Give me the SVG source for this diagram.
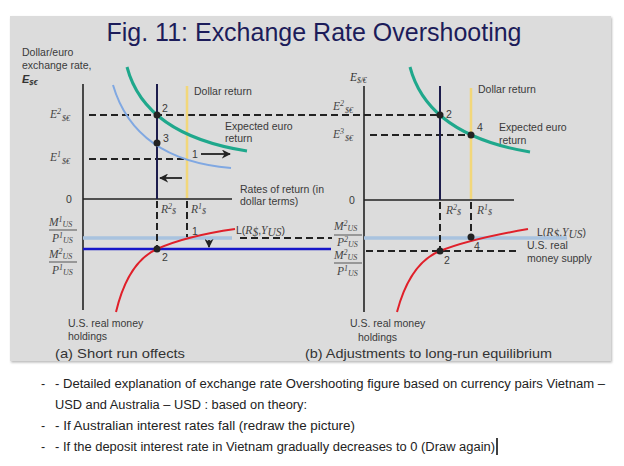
<svg xmlns="http://www.w3.org/2000/svg" width="624" height="466" viewBox="0 0 624 466">
<defs>
<style>
.lbl{font-family:"Liberation Sans",Arial,sans-serif;font-size:10.5px;fill:#3a3a3a}
.m{font-family:"Liberation Serif","Times New Roman",serif;font-style:italic;fill:#444;font-size:11.5px}
.ms{font-size:8px}
.dash{stroke:#222;stroke-width:2;stroke-dasharray:7 4;fill:none}
.ax{stroke:#222;stroke-width:1.6;fill:none}
.nv{stroke:#1c1c4c;stroke-width:2;fill:none}
.yl{stroke:#f2d77a;stroke-width:2.5;fill:none}
.dot{fill:#222}
.body{font-family:"Liberation Sans",Arial,sans-serif;font-size:12.5px;fill:#222}
</style>
<marker id="ah" viewBox="0 0 10 10" refX="9" refY="5" markerWidth="5" markerHeight="5" orient="auto"><path d="M0,0 L10,5 L0,10 L3,5 z" fill="#222"/></marker>
<filter id="sh" x="-5%" y="-5%" width="110%" height="110%"><feDropShadow dx="1" dy="1.5" stdDeviation="1" flood-color="#888" flood-opacity="0.6"/></filter>
</defs>
<rect width="624" height="466" fill="#fff"/>
<rect x="10" y="16" width="601" height="345" fill="#dcdcdc" filter="url(#sh)"/>
<text x="314" y="41" text-anchor="middle" font-family="'Liberation Sans',Arial,sans-serif" font-size="26" fill="#1c1c5a" textLength="415" lengthAdjust="spacingAndGlyphs">Fig. 11: Exchange Rate Overshooting</text>

<g id="panel-a">
<text class="lbl" x="22" y="56">Dollar/euro</text>
<text class="lbl" x="22" y="69">exchange rate,</text>
<text x="22" y="83" font-family="'Liberation Sans',Arial,sans-serif" font-weight="bold" font-style="italic" font-size="11" fill="#333">E<tspan font-size="7.5" dy="2">$€</tspan></text>
<text class="m" x="50" y="118">E<tspan class="ms" dy="-4">2</tspan><tspan class="ms" dy="7" dx="1">$€</tspan></text>
<text class="m" x="50" y="161">E<tspan class="ms" dy="-4">1</tspan><tspan class="ms" dy="7" dx="1">$€</tspan></text>
<text class="lbl" x="66" y="203" font-size="11">0</text>
<text class="m" x="49" y="226">M<tspan class="ms" dy="-4">1</tspan><tspan class="ms" dy="5">US</tspan></text>
<line x1="49" y1="230" x2="77" y2="230" stroke="#555" stroke-width="1"/>
<text class="m" x="52" y="242">P<tspan class="ms" dy="-4">1</tspan><tspan class="ms" dy="5">US</tspan></text>
<text class="m" x="49" y="258">M<tspan class="ms" dy="-4">2</tspan><tspan class="ms" dy="5">US</tspan></text>
<line x1="49" y1="262" x2="77" y2="262" stroke="#555" stroke-width="1"/>
<text class="m" x="52" y="274">P<tspan class="ms" dy="-4">1</tspan><tspan class="ms" dy="5">US</tspan></text>
<text class="m" x="161" y="213">R<tspan class="ms" dy="-4">2</tspan><tspan class="ms" dy="5">$</tspan></text>
<text class="m" x="191" y="213">R<tspan class="ms" dy="-4">1</tspan><tspan class="ms" dy="5">$</tspan></text>
<text class="lbl" x="194" y="95">Dollar return</text>
<text class="lbl" x="225" y="130">Expected euro</text>
<text class="lbl" x="225" y="142">return</text>
<text class="lbl" x="240" y="193">Rates of return (in</text>
<text class="lbl" x="240" y="205">dollar terms)</text>
<text class="lbl" x="236" y="234">L(<tspan class="m" font-size="10">R</tspan><tspan class="m" font-size="7" dy="2">$</tspan><tspan dy="-2">,</tspan><tspan class="m" font-size="10">Y</tspan><tspan class="m" font-size="7" dy="2">US</tspan><tspan dy="-2">)</tspan></text>
<text class="lbl" x="68" y="327">U.S. real money</text>
<text class="lbl" x="68" y="340">holdings</text>
<text x="55" y="358" font-family="'Liberation Sans',Arial,sans-serif" font-size="13" fill="#333" textLength="130" lengthAdjust="spacingAndGlyphs">(a) Short run offects</text>
</g>

<g id="panel-b">
<text x="350" y="81" font-family="'Liberation Serif',serif" font-style="italic" font-size="11.5" fill="#333">E<tspan font-size="7.5" dy="2">$/€</tspan></text>
<text class="m" x="333" y="110">E<tspan class="ms" dy="-4">2</tspan><tspan class="ms" dy="7" dx="1">$€</tspan></text>
<text class="m" x="333" y="138">E<tspan class="ms" dy="-4">3</tspan><tspan class="ms" dy="7" dx="1">$€</tspan></text>
<text class="lbl" x="349" y="204" font-size="11">0</text>
<text class="m" x="334" y="230">M<tspan class="ms" dy="-4">2</tspan><tspan class="ms" dy="5">US</tspan></text>
<line x1="334" y1="235" x2="362" y2="235" stroke="#555" stroke-width="1"/>
<text class="m" x="337" y="246">P<tspan class="ms" dy="-4">2</tspan><tspan class="ms" dy="5">US</tspan></text>
<text class="m" x="334" y="259">M<tspan class="ms" dy="-4">2</tspan><tspan class="ms" dy="5">US</tspan></text>
<line x1="334" y1="263" x2="362" y2="263" stroke="#555" stroke-width="1"/>
<text class="m" x="337" y="275">P<tspan class="ms" dy="-4">1</tspan><tspan class="ms" dy="5">US</tspan></text>
<text class="m" x="446" y="214">R<tspan class="ms" dy="-4">2</tspan><tspan class="ms" dy="5">$</tspan></text>
<text class="m" x="477" y="214">R<tspan class="ms" dy="-4">1</tspan><tspan class="ms" dy="5">$</tspan></text>
<text class="lbl" x="478" y="93">Dollar return</text>
<text class="lbl" x="499" y="131">Expected euro</text>
<text class="lbl" x="499" y="144">return</text>
<text class="lbl" x="537" y="236">L(<tspan class="m" font-size="10">R</tspan><tspan class="m" font-size="7" dy="2">$</tspan><tspan dy="-2">,</tspan><tspan class="m" font-size="10">Y</tspan><tspan class="m" font-size="7" dy="2">US</tspan><tspan dy="-2">)</tspan></text>
<text class="lbl" x="527" y="249">U.S. real</text>
<text class="lbl" x="527" y="262">money supply</text>
<text class="lbl" x="350" y="327">U.S. real money</text>
<text class="lbl" x="358" y="341">holdings</text>
<text x="305" y="358" font-family="'Liberation Sans',Arial,sans-serif" font-size="13" fill="#333" textLength="247" lengthAdjust="spacingAndGlyphs">(b) Adjustments  to long-run equilibrium</text>
</g>

<g id="connectors">
<line class="ax" x1="83" y1="84" x2="83" y2="310"/>
<line class="ax" x1="83" y1="199" x2="232" y2="199"/>
<line class="ax" x1="364" y1="86" x2="364" y2="312"/>
<line class="ax" x1="364" y1="200" x2="514" y2="200"/>
<line x1="83" y1="238" x2="232" y2="238" stroke="#a9c3df" stroke-width="3.5"/>
<line x1="83" y1="249" x2="331" y2="249" stroke="#1515c8" stroke-width="2.5"/>
<line x1="364" y1="238" x2="567" y2="238" stroke="#a9c3df" stroke-width="3.5"/>
<line class="dash" x1="89" y1="115" x2="440" y2="115"/>
<line class="dash" x1="89" y1="159" x2="187" y2="159"/>
<line class="dash" x1="370" y1="135" x2="471" y2="135"/>
<line class="dash" x1="157" y1="201" x2="157" y2="249"/>
<line class="dash" x1="187" y1="201" x2="187" y2="237"/>
<line class="dash" x1="240" y1="238" x2="332" y2="238"/>
<line class="dash" x1="440" y1="202" x2="440" y2="250"/>
<line class="dash" x1="471" y1="202" x2="471" y2="237"/>
<line class="dash" x1="366" y1="251" x2="516" y2="251"/>
<line class="nv" x1="157" y1="84" x2="157" y2="199"/>
<line class="yl" x1="187" y1="86" x2="187" y2="198"/>
<line class="nv" x1="440" y1="86" x2="440" y2="200"/>
<line class="yl" x1="471" y1="88" x2="471" y2="199"/>
<path d="M113,85 Q135,160 231,168" fill="none" stroke="#80a8e2" stroke-width="2"/>
<path d="M127,67 Q145,135 247,151" fill="none" stroke="#1fa88c" stroke-width="3"/>
<path d="M410,67 Q428,135 530,152" fill="none" stroke="#1fa88c" stroke-width="3"/>
<path d="M116,312 Q128,262 157,249 T235,229" fill="none" stroke="#e0202a" stroke-width="2"/>
<path d="M397,312 Q410,263 440,251 T528,229" fill="none" stroke="#e0202a" stroke-width="2"/>
<line x1="201" y1="154" x2="230" y2="154" stroke="#222" stroke-width="1.8" marker-end="url(#ah)"/>
<line x1="182" y1="178" x2="160" y2="178" stroke="#222" stroke-width="1.8" marker-end="url(#ah)"/>
<line x1="209" y1="240" x2="209" y2="247" stroke="#222" stroke-width="1.8" marker-end="url(#ah)"/>
<circle class="dot" cx="157" cy="115" r="3.5"/>
<circle class="dot" cx="157" cy="143" r="3.5"/>
<circle class="dot" cx="157" cy="249" r="3.5"/>
<circle class="dot" cx="440" cy="115" r="3.5"/>
<circle class="dot" cx="471" cy="135" r="3.5"/>
<circle class="dot" cx="471" cy="237" r="3.5"/>
<circle class="dot" cx="440" cy="251" r="3.5"/>
<text class="lbl" x="162" y="112" font-size="11">2</text>
<text class="lbl" x="163" y="142" font-size="11">3</text>
<text class="lbl" x="192" y="158" font-size="11">1</text>
<text class="lbl" x="192" y="235" font-size="11">1</text>
<text class="lbl" x="162" y="261" font-size="11">2</text>
<text class="lbl" x="446" y="118" font-size="11">2</text>
<text class="lbl" x="477" y="131" font-size="11">4</text>
<text class="lbl" x="474" y="250" font-size="11">4</text>
<text class="lbl" x="444" y="264" font-size="11">2</text>
</g>

<g id="notes">
<text class="body" x="41" y="388">-</text>
<text class="body" x="55" y="388" textLength="550" lengthAdjust="spacingAndGlyphs">- Detailed explanation of exchange rate Overshooting  figure based on currency pairs Vietnam –</text>
<text class="body" x="55" y="409" textLength="252" lengthAdjust="spacingAndGlyphs">USD and Australia – USD : based on theory:</text>
<text class="body" x="41" y="430">-</text>
<text class="body" x="55" y="430" textLength="300" lengthAdjust="spacingAndGlyphs">- If Australian interest rates fall (redraw the picture)</text>
<text class="body" x="41" y="451">-</text>
<text class="body" x="55" y="451" textLength="440" lengthAdjust="spacingAndGlyphs">- If the deposit interest rate in Vietnam gradually decreases to 0 (Draw again)</text>
<line x1="497" y1="438" x2="497" y2="455" stroke="#000" stroke-width="1.5"/>
</g>
</svg>
